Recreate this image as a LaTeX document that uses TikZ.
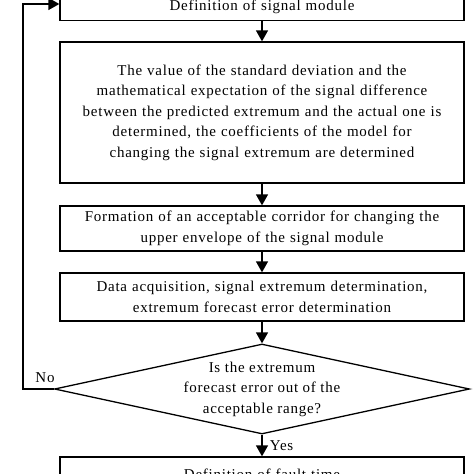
\documentclass[tikz,border=0pt]{standalone}
\usepackage{fontspec}
\setmainfont{Liberation Serif}[LetterSpace=5]
\usetikzlibrary{arrows.meta, positioning, shapes.geometric}
\tikzset{%
	every block/.style={
		draw,
		line width=1.3pt,
		minimum width=404pt,
		text width=396pt,
		inner sep=4pt,
		align=center,
		font=\fontsize{15}{20.5}\selectfont
	},
	decision/.style={
		diamond,
		draw,
		line width=1.3pt,
		aspect=4.6,
		minimum width=415pt,
		minimum height=90pt,
		inner sep=0pt,
		align=center,
		font=\fontsize{15}{20.5}\selectfont
	},
	flow/.style={
		-{Triangle[length=11pt,width=12pt]},
		line width=1.3pt
	},
}
\begin{document}
\begin{tikzpicture}[x=1pt, y=-1pt]
			\useasboundingbox (0,0) rectangle (474,474);
			
			\node [every block, minimum height=28pt] (signal) at (262,6.5) {Definition of signal module};
			
			\node [every block, minimum height=141pt] (stat) at (262,112.5) {The value of the standard deviation and the\\
				mathematical expectation of the signal difference\\
				between the predicted extremum and the actual one is\\
				determined, the coefficients of the model for\\
				changing the signal extremum are determined};
			
			\node [every block, minimum height=45pt] (corridor) at (262,228.5) {Formation of an acceptable corridor for changing the\\
				upper envelope of the signal module};
			
			\node [every block, minimum height=48pt] (acq) at (262,297) {Data acquisition, signal extremum determination,\\
				extremum forecast error determination};
			
			\node [decision] (check) at (262,389) {Is the extremum\\
				forecast error out of the\\
				acceptable range?};
			
			\node [every block, minimum height=34pt] (fault) at (262,474) {Definition of fault time};
			
			\draw [flow] (signal) -- (stat);
			\draw [flow] (stat) -- (corridor);
			\draw [flow] (corridor) -- (acq);
			\draw [flow] (acq) -- (check);
			\draw [flow] (check) -- (fault)
			node [right=4pt, midway, font=\fontsize{15}{16}\selectfont] {Yes};
			
			% return branch
			\draw [flow] (check.west) -- ++(-31,0) coordinate (back) |- ([yshift=2.5pt]signal.west);
			\node [font=\fontsize{15}{16}\selectfont] (no) at (45,378) {No};
			
		\end{tikzpicture}
\end{document}
